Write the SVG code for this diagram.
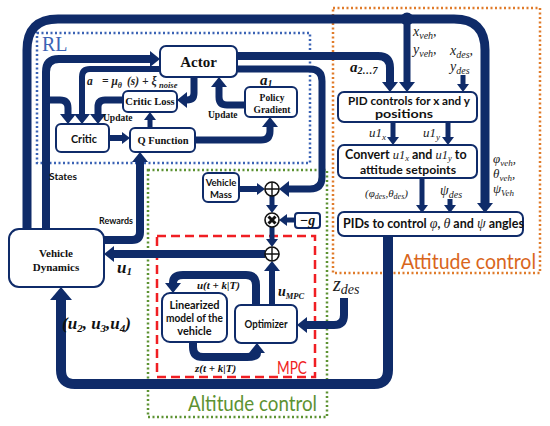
<svg xmlns="http://www.w3.org/2000/svg" width="550" height="426" viewBox="0 0 550 426">
<defs>
<style>
.box{fill:#fff;stroke:#0f2b69;stroke-width:2}
.ln{fill:none;stroke:#0f2b69;stroke-linejoin:round}
.w10{stroke-width:10}.w9{stroke-width:9}.w8{stroke-width:8}.w7{stroke-width:7}.w6{stroke-width:6}.w5{stroke-width:5}
.ser{font-family:"Liberation Serif",serif;font-weight:bold;fill:#111}
.sans{font-family:Lato,"Liberation Sans",sans-serif;font-weight:bold;fill:#111}
.math{font-family:"Liberation Serif",serif;font-style:italic;fill:#222}
.mb{font-family:"Liberation Serif",serif;font-style:italic;font-weight:bold;fill:#111}
.grp{fill:none;stroke-width:2.5}
.sum{fill:#fff;stroke:#111;stroke-width:1.6}
</style>
<marker id="aL" markerUnits="userSpaceOnUse" viewBox="0 0 13 22" markerWidth="13" markerHeight="22" refX="0" refY="11" orient="auto"><path d="M0,0 L13,11 L0,22z" fill="#0f2b69"/></marker>
<marker id="aM" markerUnits="userSpaceOnUse" viewBox="0 0 10 16" markerWidth="10" markerHeight="16" refX="0" refY="8" orient="auto"><path d="M0,0 L10,8 L0,16z" fill="#0f2b69"/></marker>
<marker id="aS" markerUnits="userSpaceOnUse" viewBox="0 0 8 12" markerWidth="8" markerHeight="12" refX="0" refY="6" orient="auto"><path d="M0,0 L8,6 L0,12z" fill="#0f2b69"/></marker>
</defs>
<rect width="550" height="426" fill="#fff"/>

<g id="regions">
<rect class="grp" x="37" y="33" width="273" height="130" stroke="#3b63b5" stroke-dasharray="2 2.5"/>
<rect class="grp" x="148" y="170" width="179" height="247" stroke="#5d9232" stroke-dasharray="2 2.5"/>
<rect class="grp" x="333" y="8" width="207" height="265" stroke="#e07b2a" stroke-dasharray="2 2.5"/>
<rect class="grp" x="157" y="236" width="158" height="141" stroke="#f01e23" stroke-dasharray="9 5"/>
<text x="42" y="51" font-family="Liberation Serif,serif" font-size="20" fill="#3b63b5">RL</text>
<text x="188" y="411" font-family="Lato,Liberation Sans,sans-serif" font-size="22" fill="#5d9232" textLength="129" lengthAdjust="spacingAndGlyphs">Altitude control</text>
<text x="401" y="269" font-family="Lato,Liberation Sans,sans-serif" font-size="21" fill="#d9661c" textLength="135" lengthAdjust="spacingAndGlyphs">Attitude control</text>
<text x="277" y="374" font-family="Lato,Liberation Sans,sans-serif" font-size="17" fill="#f01e23" textLength="30" lengthAdjust="spacingAndGlyphs">MPC</text>
</g>

<g id="connectors">
<path class="ln w9" d="M27,229 V50 Q27,19 58,19 H454 Q485,19 485,50 V203" marker-end="url(#aM)"/>
<circle cx="407" cy="19" r="6.5" fill="#0f2b69"/>
<path class="ln w7" d="M407,19 V82" marker-end="url(#aM)"/>
<path class="ln w8" d="M46,229 V72 Q46,59 59,59 H150" marker-end="url(#aM)"/>
<path class="ln w7" d="M46,100 H60 Q68,100 68,108 V114" marker-end="url(#aM)"/>
<path class="ln w6" d="M160,69 H90 Q82,69 82,77 V114" marker-end="url(#aM)"/>
<path class="ln w7" d="M194,77 V93 Q194,100 187,100" marker-end="url(#aM)"/>
<path class="ln w7" d="M123,100 H105 Q98,100 98,107 V114" marker-end="url(#aM)"/>
<path class="ln w6" d="M109,138 H122" marker-end="url(#aS)"/>
<path class="ln w5" d="M150,128 V120" marker-end="url(#aS)"/>
<path class="ln w7" d="M195,140 H261 Q270,140 270,131 V127" marker-end="url(#aM)"/>
<path class="ln w7" d="M245,105 H227 Q219,105 219,97 V87" marker-end="url(#aM)"/>
<path class="ln w8" d="M104,240 H132 Q140,240 140,232 V162" marker-end="url(#aM)"/>
<path class="ln w8" d="M237,56 H378 Q390,56 390,68 V82" stroke="#24467e" marker-end="url(#aM)"/>
<path class="ln w7" d="M237,69 H310 Q322,69 322,81 V177 Q322,189 310,189 H289" marker-end="url(#aM)"/>
<path class="ln w6" d="M239,189 H257" marker-end="url(#aS)"/>
<path class="ln w5" d="M272,196 V205" marker-end="url(#aS)"/>
<path class="ln w5" d="M295,220 H287" marker-end="url(#aS)"/>
<path class="ln w5" d="M272,227 V239" marker-end="url(#aS)"/>
<path class="ln w8" d="M265,254 H114" marker-end="url(#aM)"/>
<path class="ln w6" d="M272,305 V271" marker-end="url(#aM)"/>
<path class="ln w8" d="M256,305 V285 Q256,275 246,275 H183 Q173,275 173,283" marker-end="url(#aM)"/>
<path class="ln w8" d="M193,342 V347 Q193,357 203,357 H247 Q257,357 257,353" marker-end="url(#aM)"/>
<path class="ln w8" d="M344,298 V315 Q344,325 334,325 H307" marker-end="url(#aM)"/>
<path class="ln w10" d="M388,236 V370 Q388,384 374,384 H75 Q61,384 61,370 V300" marker-end="url(#aL)"/>
<path class="ln w5" d="M393,122 V137" marker-end="url(#aS)"/>
<path class="ln w5" d="M448,122 V137" marker-end="url(#aS)"/>
<path class="ln w5" d="M422,178 V205" marker-end="url(#aS)"/>
<path class="ln w5" d="M450,199 V205" marker-end="url(#aS)"/>
<path class="ln w5" d="M463,75 V84" marker-end="url(#aS)"/>
</g>

<g id="labels">
<text class="math" font-size="11.5"><tspan x="87" y="85" font-weight="bold">a</tspan><tspan x="102" y="85" font-weight="bold">= μ</tspan><tspan font-size="8" dy="3" font-weight="bold">θ</tspan><tspan x="127" y="85" font-weight="bold">(s) + ξ</tspan><tspan x="159" y="88" font-size="8.5" font-weight="bold">noise</tspan></text>
<text class="ser" x="103" y="121" font-size="9.5">Update</text>
<text class="ser" x="208" y="118" font-size="9.5">Update</text>
<text class="mb" x="260" y="85" font-size="15">a<tspan font-size="10" dy="2">1</tspan></text>
<text class="mb" x="350" y="72" font-size="15">a<tspan font-size="10" dy="2">2…7</tspan></text>
<text class="sans" x="49" y="180" font-size="10" textLength="28" lengthAdjust="spacingAndGlyphs">States</text>
<text class="sans" x="99" y="224" font-size="10" textLength="34" lengthAdjust="spacingAndGlyphs">Rewards</text>
<text class="mb" x="117" y="273" font-size="17">u<tspan font-size="11" dy="2">1</tspan></text>
<text class="mb" x="62" y="329" font-size="17">(u<tspan font-size="11" dy="3">2</tspan><tspan dy="-3">, u</tspan><tspan font-size="11" dy="3">3</tspan><tspan dy="-3">,u</tspan><tspan font-size="11" dy="3">4</tspan><tspan dy="-3">)</tspan></text>
<text class="mb" x="278" y="296" font-size="14">u<tspan font-size="8.5" dy="3">MPC</tspan></text>
<text class="math" x="333" y="291" font-size="20">z<tspan font-size="14" dy="3">des</tspan></text>
<text class="mb" x="197" y="289" font-size="11">u(t + k|T)</text>
<text class="mb" x="195" y="372" font-size="11">z(t + k|T)</text>
<text class="math" x="413" y="36" font-size="14">x<tspan font-size="10" dy="3">veh</tspan><tspan dy="-3">,</tspan></text>
<text class="math" x="413" y="54" font-size="14">y<tspan font-size="10" dy="3">veh</tspan><tspan dy="-3">,</tspan></text>
<text class="math" x="450" y="55" font-size="14">x<tspan font-size="10" dy="3">des</tspan><tspan dy="-3">,</tspan></text>
<text class="math" x="450" y="71" font-size="14">y<tspan font-size="10" dy="3">des</tspan></text>
<text class="math" x="369" y="137" font-size="13">u1<tspan font-size="9" dy="3">x</tspan></text>
<text class="math" x="423" y="137" font-size="13">u1<tspan font-size="9" dy="3">y</tspan></text>
<text class="math" x="365" y="197" font-size="11">(φ<tspan font-size="8" dy="2">des</tspan><tspan dy="-2">,θ</tspan><tspan font-size="8" dy="2">des</tspan><tspan dy="-2">)</tspan></text>
<text class="math" x="440" y="195" font-size="14">ψ<tspan font-size="10" dy="3">des</tspan></text>
<text class="math" x="493" y="163" font-size="13">φ<tspan font-size="9" dy="3">veh</tspan><tspan dy="-3">,</tspan></text>
<text class="math" x="493" y="178" font-size="13">θ<tspan font-size="9" dy="3">veh</tspan><tspan dy="-3">,</tspan></text>
<text class="math" x="493" y="193" font-size="13">ψ<tspan font-size="9" dy="3">Veh</tspan></text>
</g>

<g id="actor"><rect class="box" x="160" y="46" width="77" height="31" rx="6"/><text class="ser" x="198.5" y="67" font-size="15" text-anchor="middle">Actor</text></g>
<g id="critic-loss"><rect class="box" x="123" y="91" width="54" height="21" rx="5"/><text class="ser" x="150" y="105" font-size="10.5" text-anchor="middle">Critic Loss</text></g>
<g id="critic"><rect class="box" x="56" y="124" width="53" height="28" rx="5"/><text class="sans" x="71" y="143" font-size="12" textLength="26" lengthAdjust="spacingAndGlyphs">Critic</text></g>
<g id="q-function"><rect class="box" x="130" y="128" width="65" height="24" rx="5"/><text class="ser" x="163" y="144" font-size="10.5" text-anchor="middle">Q Function</text></g>
<g id="policy-gradient"><rect class="box" x="245" y="87" width="52" height="30" rx="5"/><text class="ser" x="272" y="101" font-size="9.5" text-anchor="middle">Policy</text><text class="ser" x="272" y="113" font-size="9.5" text-anchor="middle">Gradient</text></g>
<g id="vehicle-dynamics"><rect class="box" x="9" y="229" width="95" height="58" rx="10"/><text class="ser" x="56" y="257" font-size="11" text-anchor="middle">Vehicle</text><text class="ser" x="56" y="271" font-size="11" text-anchor="middle">Dynamics</text></g>
<g id="vehicle-mass"><rect class="box" x="203" y="173" width="36" height="29" rx="5"/><text class="sans" x="221" y="186" font-size="9.5" text-anchor="middle">Vehicle</text><text class="sans" x="221" y="198" font-size="9.5" text-anchor="middle">Mass</text></g>
<g id="sum1"><circle class="sum" cx="272" cy="189" r="7"/><path d="M265,189 H279 M272,182 V196" stroke="#111" stroke-width="1.4"/></g>
<g id="mult"><circle class="sum" cx="272" cy="220" r="7"/><path d="M268.5,216.5 L275.5,223.5 M275.5,216.5 L268.5,223.5" stroke="#111" stroke-width="3"/></g>
<g id="sum2"><circle class="sum" cx="272" cy="254" r="7"/><path d="M265,254 H279 M272,247 V261" stroke="#111" stroke-width="1.4"/></g>
<g id="minus-g"><rect class="box" x="295" y="213" width="25" height="15" rx="3"/><text class="mb" x="307.5" y="225" font-size="14" text-anchor="middle">−g</text></g>
<g id="linearized"><rect class="box" x="162" y="293" width="65" height="49" rx="8"/><text class="sans" x="194.5" y="309" font-size="11" text-anchor="middle">Linearized</text><text class="sans" x="194.5" y="322" font-size="11" text-anchor="middle" textLength="57" lengthAdjust="spacingAndGlyphs">model of the</text><text class="sans" x="194.5" y="335" font-size="11" text-anchor="middle">vehicle</text></g>
<g id="optimizer"><rect class="box" x="235" y="305" width="62" height="38" rx="6"/><text class="sans" x="266" y="328" font-size="11" text-anchor="middle" textLength="43" lengthAdjust="spacingAndGlyphs">Optimizer</text></g>
<g id="pid-xy"><rect class="box" x="338" y="92" width="139" height="30" rx="6"/><text class="sans" x="348" y="104.5" font-size="12" textLength="122" lengthAdjust="spacingAndGlyphs">PID controls for x and y</text><text class="sans" x="375" y="118" font-size="12" textLength="58" lengthAdjust="spacingAndGlyphs">positions</text></g>
<g id="convert"><rect class="box" x="338" y="145" width="139" height="33" rx="6"/><text class="sans" x="345" y="159" font-size="12.5">Convert <tspan class="math" font-weight="normal">u1<tspan font-size="8.5" dy="2">x</tspan></tspan><tspan dy="-2"> and </tspan><tspan class="math" font-weight="normal">u1<tspan font-size="8.5" dy="2">y</tspan></tspan><tspan dy="-2"> to</tspan></text><text class="sans" x="360" y="174" font-size="12" textLength="96" lengthAdjust="spacingAndGlyphs">attitude setpoints</text></g>
<g id="pid-angles"><rect class="box" x="338" y="212" width="185" height="24" rx="6"/><text class="sans" x="343" y="228" font-size="12.5">PIDs to control <tspan class="math" font-weight="normal" font-size="14">φ</tspan>, <tspan class="math" font-weight="normal" font-size="14">θ</tspan> and <tspan class="math" font-weight="normal" font-size="14">ψ</tspan> angles</text></g>
</svg>
